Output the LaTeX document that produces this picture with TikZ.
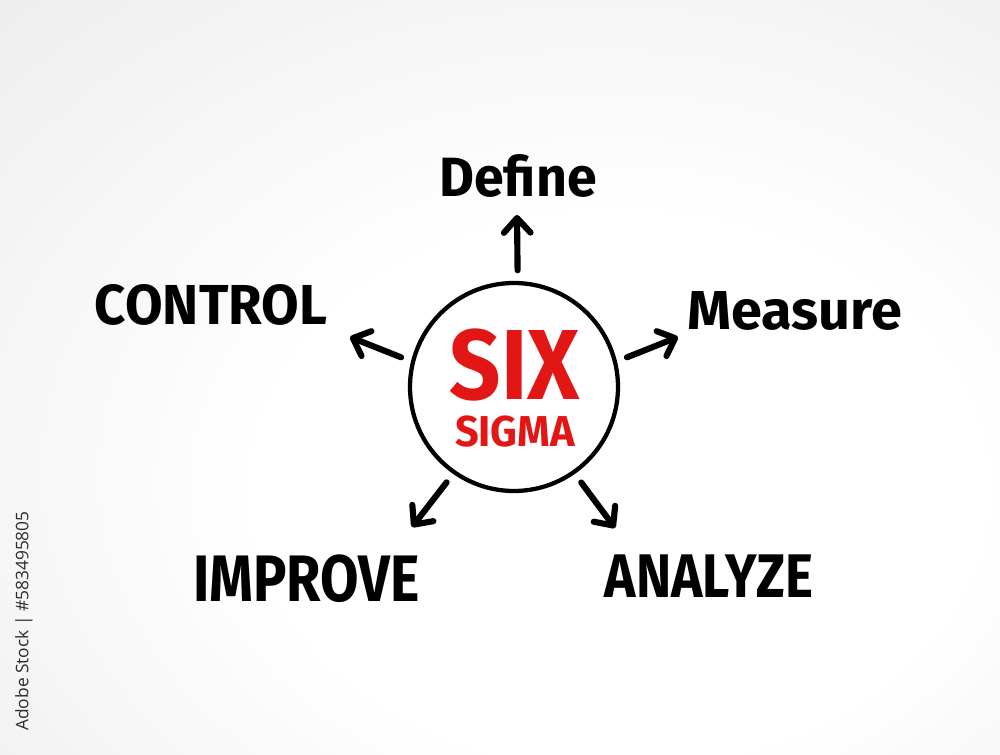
\documentclass[tikz,border=0pt]{standalone}
\usepackage{fontspec}
\setmainfont{Fira Sans}
\newfontfamily\stockfont{Open Sans}
\usetikzlibrary{arrows.meta}
\definecolor{sigmared}{RGB}{227,22,22}
\definecolor{stockgray}{RGB}{45,45,45}
\pgfdeclareradialshading{paper}{\pgfpoint{8bp}{-10bp}}{color(0bp)=(white); color(18bp)=(white); color(72bp)=(black!16)}
\newcommand{\word}[3]{\resizebox{#1pt}{#2pt}{\bfseries #3}}
\begin{document}
\begin{tikzpicture}[x=0.75pt,y=-0.75pt,
  arr/.style={line width=4.6pt,line cap=round,shorten <=8pt,-{Straight Barb[length=11pt,width=20pt,round]}},
  lbl/.style={inner sep=0pt}]
\shade[shading=paper] (0,0) rectangle (1000,755);
\useasboundingbox (0,0) rectangle (1000,755);
\node[circle,draw,line width=3.2pt,minimum size=156pt,inner sep=0pt] (hub) at (514,387) {};
\node[lbl,text=sigmared] (six) at (515,365) {\word{97.5}{53}{SIX}};
\node[lbl,text=sigmared] (sigma) at (515,432) {\word{90}{23}{SIGMA}};
\node[lbl] (define) at (518,176) {\word{118}{31.5}{Define}};
\node[lbl] (control) at (211,305) {\word{174}{30}{CONTROL}};
\node[lbl] (measure) at (794.5,311) {\word{161}{28.5}{Measure}};
\node[lbl] (improve) at (306.5,578.5) {\word{170}{35}{IMPROVE}};
\node[lbl] (analyze) at (709,576.5) {\word{156}{32}{ANALYZE}};
\coordinate (d-tip) at (517,215);
\coordinate (c-tip) at (350,337);
\coordinate (m-tip) at (678,337);
\coordinate (i-tip) at (412,527);
\coordinate (a-tip) at (615,528);
\draw[arr] (hub.88.5) -- (d-tip);
\draw[arr] (hub.166.4) -- (c-tip);
\draw[arr] (hub.14.4) -- (m-tip);
\draw[arr] (hub.235.6) -- (i-tip);
\draw[arr] (hub.305) -- (a-tip);
\node[lbl,rotate=90,text=stockgray,font=\stockfont\fontsize{13}{15}\selectfont] (stock) at (24,621) {Adobe Stock | \#583495805};
\end{tikzpicture}
\end{document}
